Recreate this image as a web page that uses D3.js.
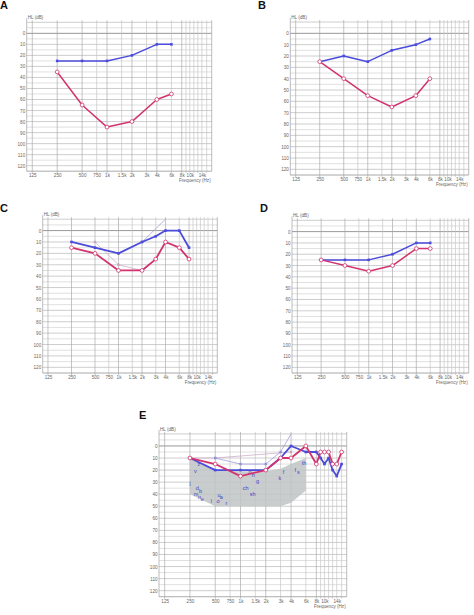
<!DOCTYPE html>
<html>
<head>
<meta charset="utf-8">
<script src="https://cdn.jsdelivr.net/npm/d3@7"></script>
<style>
  body { margin: 0; background: #fff; }
  svg { display: block; font-family: "Liberation Sans", Arial, sans-serif; }
  .tick-label { font-size: 4.6px; fill: #666; }
  .letter { font-size: 11px; font-weight: bold; fill: #111; }
  .phon { font-size: 5.5px; fill: #4646c8; }
</style>
</head>
<body>
<svg id="chart" width="474" height="615"></svg>
<script>
//
// axis ticks
var freqTicks = [125, 250, 500, 750, 1000, 1500, 2000, 3000, 4000, 6000, 8000, 10000, 14000],
    freqTickLabels = ['125', '250', '500', '750', '1k', '1.5k', '2k', '3k', '4k', '6k', '8k', '10k', '14k'],
    gridFreqs = [125, 250, 500, 750, 1000, 1500, 2000, 3000, 4000, 6000, 8000, 9000, 10000, 11200, 12500, 14000, 16000],
    octaveFreqs = [125, 250, 500, 1000, 2000, 4000, 8000],
    dbTicks = d3.range(0, 121, 10);

//
// thresholds (dB HL)
var freqStd = [250, 500, 1000, 2000, 4000, 6000],
    aBlue = [25, 25, 25, 20, 10, 10],
    aRed = [35, 65, 85, 80, 60, 55],
    bBlue = [25, 20, 25, 15, 10, 5],
    bRed = [25, 40, 55, 65, 55, 40],
    dBlue = [25, 25, 25, 20, 10, 10],
    dRed = [25, 30, 35, 30, 15, 15];

var freqC = [250, 500, 1000, 2000, 3000, 4000, 6000, 8000],
    cBlue = [10, 15, 20, 10, 5, 0, 0, 15],
    cRed = [15, 20, 35, 35, 25, 10, 15, 25],
    cThinPinkFreq = [500, 1000, 2000, 3000, 4000],
    cThinPink = [10, 30, 35, 25, 10],
    cThinBlueFreq = [2000, 4000],
    cThinBlue = [10, -10];

var freqE = [250, 500, 1000, 2000, 3000, 4000, 6000, 8000, 9000, 10000, 11200, 12500, 14000, 16000],
    eBlue = [10, 20, 20, 20, 10, 0, 5, 5, 10, 15, 10, 20, 25, 15],
    eRed = [10, 15, 25, 20, 10, 10, 0, 15, 5, 5, 5, 15, 15, 5],
    eThinBlueFreq = [500, 1000, 2000, 3000, 4000],
    eThinBlue = [10, 15, 15, 5, -10],
    eThinPinkFreq = [250, 500, 4000],
    eThinPink = [10, 10, 5];

// speech banana outline and sounds
var bananaFreq = [250, 500, 1000, 2000, 3000, 4000, 6000, 6000, 4000, 3000, 500, 250],
    bananaDb = [10, 20, 21, 21, 19, 15, 10, 37, 47, 50, 50, 40],
    phonText = ['z', 'v', 'j', 'd', 'b', 'm', 'n', 'e', 'l', 'u', 'a', 'o', 'r', 'p', 'h', 'g', 'ch', 'sh', 'k', 'f', 'f', 's', 'th'],
    phonFreq = [320, 290, 252, 305, 335, 295, 325, 350, 450, 555, 590, 540, 680, 1300, 1420, 1600, 1150, 1400, 2950, 3250, 4500, 4900, 5700],
    phonDb = [15, 21, 31, 35, 37, 40, 42, 44, 46, 41, 42, 46, 47, 22, 24, 29, 35, 40, 27, 22, 20, 22, 14];

var svg = d3.select('#chart'),
    blue = '#4b4bdc',
    red = '#d2336e',
    zip = function(fs, vs) { return fs.map(function(f, i) { return {f: f, v: vs[i]}; }); };

//
// one audiogram panel
var audiogram = function(p) {
  var g = svg.append('g'),
      x = d3.scaleLog().domain([107, 18400]).range([p.x0, p.x1]),
      y = d3.scaleLinear().domain([-10, 125]).range([p.y0, p.y1]),
      line = d3.line().x(function(d) { return x(d.f); }).y(function(d) { return y(d.v); });

  g.selectAll('.h-line').data(d3.range(-10, 126, 5)).enter()
    .append('line')
    .attr('x1', p.x0).attr('x2', p.x1)
    .attr('y1', function(d) { return y(d); }).attr('y2', function(d) { return y(d); })
    .attr('stroke', function(d) { return d === 0 ? '#8c8c8c' : (d % 10 === 0 ? '#b4b4b4' : '#cfcfcf'); })
    .attr('stroke-width', function(d) { return d === 0 ? 0.9 : 0.65; });

  g.selectAll('.v-line').data(gridFreqs).enter()
    .append('line')
    .attr('x1', function(d) { return x(d); }).attr('x2', function(d) { return x(d); })
    .attr('y1', p.y0 - 2).attr('y2', p.y1 + 2)
    .attr('stroke', function(d) { return octaveFreqs.indexOf(d) >= 0 ? '#a6a6a6' : '#c2c2c2'; })
    .attr('stroke-width', 0.65);

  // frame
  g.append('path')
    .attr('d', 'M' + p.x0 + ',' + (p.y0 - 4) + 'V' + p.y1 + 'H' + p.x1 + 'V' + (p.y0 - 2))
    .attr('fill', 'none').attr('stroke', '#a0a0a0').attr('stroke-width', 0.7);

  // axes labels via d3 axes
  var ya = g.append('g').attr('transform', 'translate(' + (p.x0 - 1.5) + ',0)')
    .call(d3.axisLeft(y).tickValues(dbTicks).tickSize(0).tickPadding(0));
  var xa = g.append('g').attr('transform', 'translate(0,' + (p.y1 + 2) + ')')
    .call(d3.axisBottom(x).tickValues(freqTicks).tickSize(0).tickPadding(0)
      .tickFormat(function(d, i) { return freqTickLabels[i]; }));
  [ya, xa].forEach(function(a) {
    a.select('.domain').remove();
    a.selectAll('text').attr('class', 'tick-label').attr('font-family', null).attr('font-size', null)
      .attr('fill', null);
  });
  xa.selectAll('text').attr('dy', '0.9em');

  g.append('text').attr('class', 'tick-label')
    .attr('x', p.x0 + 1).attr('y', p.y0 - 3).text('HL (dB)');
  g.append('text').attr('class', 'tick-label')
    .attr('x', p.x1 - 1).attr('y', p.y1 + 11).attr('text-anchor', 'end').text('Frequency (Hz)');
  g.append('text').attr('class', 'letter')
    .attr('x', p.lx).attr('y', p.ly).text(p.letter);

  if (p.banana) {
    g.append('path')
      .attr('d', d3.line().x(function(d) { return x(d.f); }).y(function(d) { return y(d.v); })
        .curve(d3.curveLinearClosed)(zip(bananaFreq, bananaDb)))
      .attr('fill', '#bfc4c4').attr('fill-opacity', 0.85);
    g.selectAll('.phon').data(zip(phonFreq, phonDb)).enter()
      .append('text').attr('class', 'phon')
      .attr('x', function(d) { return x(d.f); })
      .attr('y', function(d) { return y(d.v); })
      .attr('text-anchor', 'middle').attr('dy', '0.35em')
      .text(function(d, i) { return phonText[i]; });
  }

  (p.thin || []).forEach(function(t) {
    var pts = zip(t.f, t.v);
    g.append('path').attr('d', line(pts))
      .attr('fill', 'none').attr('stroke', t.color).attr('stroke-width', 0.7);
    g.selectAll(null).data(pts.filter(function(d) { return d.v > -10; })).enter()
      .append('rect')
      .attr('x', function(d) { return x(d.f) - 1.2; }).attr('y', function(d) { return y(d.v) - 1.2; })
      .attr('width', 2.4).attr('height', 2.4)
      .attr('fill', t.color);
  });

  p.series.forEach(function(s) {
    var pts = zip(s.f, s.v);
    g.append('path').attr('d', line(pts))
      .attr('fill', 'none').attr('stroke', s.color).attr('stroke-width', p.lw)
      .attr('stroke-linejoin', 'round');
    if (s.mark === 'circle') {
      g.selectAll(null).data(pts).enter().append('circle')
        .attr('cx', function(d) { return x(d.f); }).attr('cy', function(d) { return y(d.v); })
        .attr('r', 1.9).attr('fill', '#fff').attr('stroke', s.color).attr('stroke-width', 0.8);
    } else {
      g.selectAll(null).data(pts).enter().append('rect')
        .attr('x', function(d) { return x(d.f) - 1.3; }).attr('y', function(d) { return y(d.v) - 1.3; })
        .attr('width', 2.6).attr('height', 2.6).attr('fill', s.color);
    }
  });
};

//
// aaaand render
audiogram({letter: 'A', lx: 0, ly: 9, x0: 26.7, x1: 211.7, y0: 22.3, y1: 171.2, lw: 1.5,
  series: [{f: freqStd, v: aBlue, color: blue, mark: 'sq'}, {f: freqStd, v: aRed, color: red, mark: 'circle'}]});
audiogram({letter: 'B', lx: 258, ly: 9, x0: 290.3, x1: 468.7, y0: 22, y1: 175, lw: 1.5,
  series: [{f: freqStd, v: bBlue, color: blue, mark: 'sq'}, {f: freqStd, v: bRed, color: red, mark: 'circle'}]});
audiogram({letter: 'C', lx: 0, ly: 212, x0: 42.7, x1: 217.3, y0: 219.2, y1: 373, lw: 1.8,
  thin: [{f: cThinPinkFreq, v: cThinPink, color: '#c7a3c3'}, {f: cThinBlueFreq, v: cThinBlue, color: '#9a98c4'}],
  series: [{f: freqC, v: cBlue, color: blue, mark: 'sq'}, {f: freqC, v: cRed, color: red, mark: 'circle'}]});
audiogram({letter: 'D', lx: 260, ly: 212, x0: 292, x1: 468.7, y0: 220.3, y1: 373, lw: 1.5,
  series: [{f: freqStd, v: dBlue, color: blue, mark: 'sq'}, {f: freqStd, v: dRed, color: red, mark: 'circle'}]});
audiogram({letter: 'E', lx: 139, ly: 419, x0: 159, x1: 346.7, y0: 433.9, y1: 596.7, lw: 1.8, banana: true,
  thin: [{f: eThinPinkFreq, v: eThinPink, color: '#c7a3c3'}, {f: eThinBlueFreq, v: eThinBlue, color: '#8f8fd8'}],
  series: [{f: freqE, v: eBlue, color: blue, mark: 'sq'}, {f: freqE, v: eRed, color: red, mark: 'circle'}]});
</script>
</body>
</html>
